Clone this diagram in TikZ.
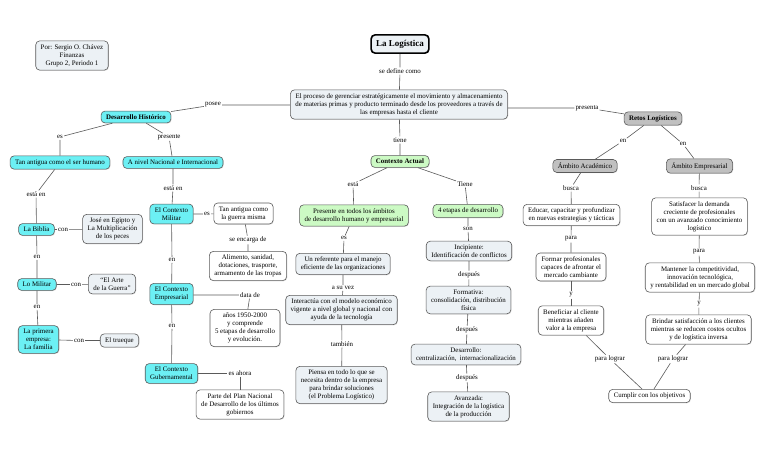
\documentclass[tikz,border=0pt]{standalone}
\usepackage{fontspec}
\setmainfont{Liberation Serif}
\usetikzlibrary{shadows}

\definecolor{cmcyan}{RGB}{108,240,244}
\definecolor{cmgreen}{RGB}{204,250,196}
\definecolor{cmgray}{RGB}{192,192,192}
\definecolor{cmsoft}{RGB}{236,241,245}
\definecolor{cmline}{RGB}{90,90,90}

\tikzset{
  concept/.style={draw=cmline, line width=0.6pt, rounded corners=4pt, align=center,
    inner xsep=5pt, inner ysep=3.5pt, font=\fontsize{6.9}{8}\selectfont,
    drop shadow={opacity=0.25, shadow xshift=0.7pt, shadow yshift=-0.7pt}},
  hist/.style={concept, fill=cmcyan},
  actual/.style={concept, fill=cmgreen},
  retos/.style={concept, fill=cmgray},
  soft/.style={concept, fill=cmsoft},
  plain/.style={concept, fill=white},
  head/.style={font=\fontsize{6.9}{8}\selectfont\bfseries},
  link/.style={inner sep=1pt, font=\fontsize{6.9}{8}\selectfont},
  conn/.style={draw=cmline, line width=0.6pt}
}

\begin{document}
\begin{tikzpicture}[x=1pt, y=-1pt]
		%%%%% START %%%%%
		\useasboundingbox (0,0) rectangle (768,466);
		
		% autor y raiz
		\node[soft] (autor) at (72,55.5) {Por: Sergio O. Chávez\\Finanzas\\Grupo 2, Periodo 1};
		\node[soft, line width=1.6pt, draw=black, font=\fontsize{9}{10.5}\selectfont\bfseries, inner ysep=5pt, inner xsep=5pt] (logistica) at (400,44) {La Logística};
		\node[soft] (definicion) at (399,104.5) {El proceso de gerenciar estratégicamente el movimiento y almacenamiento\\de materias primas y producto terminado desde los proveedores a través de\\las empresas hasta el cliente};
		
		\node[link] (sedefine) at (400,71) {se define como};
		\draw[conn] (logistica) -- (sedefine) -- (definicion);
		
		% tres ramas
		\node[hist, head] (historico) at (136,117) {Desarrollo Histórico};
		\node[actual, head] (actual) at (400,161.5) {Contexto Actual};
		\node[retos, head] (retos) at (653,118.5) {Retos Logísticos};
		
		\node[link] (posee) at (213,105) {posee};
		\node[link] (tiene) at (400,140) {tiene};
		\node[link] (presenta) at (587,108) {presenta};
		\draw[conn] (historico) -- (posee) -- (definicion.west |- posee);
		\draw[conn] (definicion) -- (tiene) -- (actual);
		\draw[conn] (definicion.east |- presenta) -- (presenta) -- (retos);
		
		% desarrollo historico
		\node[hist] (antigua) at (60,162.5) {Tan antigua como el ser humano};
		\node[hist] (nivel) at (173,162.5) {A nivel Nacional e Internacional};
		\node[link] (es1) at (60,137) {es};
		\node[link] (presente) at (169,137) {presente};
		\draw[conn] (historico) -- (es1) -- (antigua);
		\draw[conn] (historico) -- (presente) -- (nivel);
		
		\node[hist] (biblia) at (36.5,229.5) {La Biblia};
		\node[soft] (jose) at (112.5,229) {José en Egipto y\\La Multiplicación\\de los peces};
		\node[hist] (militar) at (37,284.5) {Lo Militar};
		\node[soft] (arte) at (112,284) {“El Arte\\de la Guerra”};
		\node[hist] (familia) at (38.5,339.5) {La primera\\empresa:\\La familia};
		\node[soft] (trueque) at (119.5,340.5) {El trueque};
		
		\node[link] (estaen1) at (36,194) {está en};
		\node[link] (con1) at (63,229.5) {con};
		\node[link] (en1) at (37,257) {en};
		\node[link] (con2) at (76,284.5) {con};
		\node[link] (en2) at (37,307) {en};
		\node[link] (con3) at (79,340.5) {con};
		\draw[conn] (antigua) -- (estaen1) -- (biblia);
		\draw[conn] (biblia) -- (con1) -- (jose);
		\draw[conn] (biblia) -- (en1) -- (militar);
		\draw[conn] (militar) -- (con2) -- (arte);
		\draw[conn] (militar) -- (en2) -- (familia);
		\draw[conn] (familia) -- (con3) -- (trueque);
		
		% contextos
		\node[hist] (cmilitar) at (171.5,214) {El Contexto\\Militar};
		\node[hist] (cempresa) at (171.5,294) {El Contexto\\Empresarial};
		\node[hist] (cgobierno) at (171.5,373.5) {El Contexto\\Gubernamental};
		\node[plain] (guerra) at (243.5,213.5) {Tan antigua como\\la guerra misma};
		\node[plain] (alimento) at (248,266) {Alimento, sanidad,\\dotaciones, trasporte,\\armamento de las tropas};
		\node[plain] (anos) at (245,328) {años 1950-2000\\y comprende\\5 etapas de desarrollo\\y evolución.};
		\node[plain] (plan) at (240,404.5) {Parte del Plan Nacional\\de Desarrollo de los últimos\\gobiernos};
		
		\node[link] (estaen2) at (173,188) {está en};
		\node[link] (es2) at (207,214) {es};
		\node[link] (encarga) at (248,240) {se encarga de};
		\node[link] (en3) at (172,260) {en};
		\node[link] (datade) at (250,295) {data de};
		\node[link] (en4) at (172,326) {en};
		\node[link] (esahora) at (240,373) {es ahora};
		\draw[conn] (nivel) -- (estaen2) -- (cmilitar);
		\draw[conn] (cmilitar) -- (es2) -- (guerra);
		\draw[conn] (guerra) -- (encarga) -- (alimento);
		\draw[conn] (cmilitar) -- (en3) -- (cempresa);
		\draw[conn] (cempresa.east |- datade) -- (datade) -- (anos);
		\draw[conn] (cempresa) -- (en4) -- (cgobierno);
		\draw[conn] (cgobierno.east |- esahora) -- (esahora) -- (plan);
		
		% contexto actual
		\node[actual] (presentet) at (354,215.5) {Presente en todos los ámbitos\\de desarrollo humano y empresarial};
		\node[soft] (referente) at (343,264) {Un referente para el manejo\\eficiente de las organizaciones};
		\node[soft] (interactua) at (341.5,310) {Interactúa con el modelo económico\\vigente a nivel global y nacional con\\ayuda de la tecnología};
		\node[soft] (piensa) at (341.5,385) {Piensa en todo lo que se\\necesita dentro de la empresa\\para brindar soluciones\\(el Problema Logístico)};
		
		\node[link] (esta) at (353,184) {está};
		\node[link] (es3) at (344,238) {es};
		\node[link] (asuvez) at (343,288) {a su vez};
		\node[link] (tambien) at (342,344) {también};
		\draw[conn] (actual) -- (esta) -- (presentet);
		\draw[conn] (presentet) -- (es3) -- (referente);
		\draw[conn] (referente) -- (asuvez) -- (interactua);
		\draw[conn] (interactua) -- (tambien) -- (piensa);
		
		\node[actual] (etapas) at (468,211) {4 etapas de desarrollo};
		\node[soft] (incipiente) at (469,251) {Incipiente:\\Identificación de conflictos};
		\node[soft] (formativa) at (468.5,300) {Formativa:\\consolidación, distribución\\física};
		\node[soft] (desarrollo) at (466,354.5) {Desarrollo:\\centralización,\ \ internacionalización};
		\node[soft] (avanzada) at (468.5,406.5) {Avanzada:\\Integración de la logística\\de la producción};
		
		\node[link] (tiene2) at (465,184) {Tiene};
		\node[link] (son) at (468,229) {son};
		\node[link] (despues1) at (469,275) {después};
		\node[link] (despues2) at (467,330) {después};
		\node[link] (despues3) at (467,378) {después};
		\draw[conn] (actual) -- (tiene2) -- (etapas);
		\draw[conn] (etapas) -- (son) -- (incipiente);
		\draw[conn] (incipiente) -- (despues1) -- (formativa);
		\draw[conn] (formativa) -- (despues2) -- (desarrollo);
		\draw[conn] (desarrollo) -- (despues3) -- (avanzada);
		
		% retos logisticos
		\node[retos] (academico) at (585,166) {Ámbito Académico};
		\node[retos] (empresarial) at (699.5,166) {Ámbito Empresarial};
		\node[link] (en5) at (623,141) {en};
		\node[link] (en6) at (683,144) {en};
		\draw[conn] (retos) -- (en5) -- (academico);
		\draw[conn] (retos) -- (en6) -- (empresarial);
		
		\node[plain] (educar) at (571.5,215) {Educar, capacitar y profundizar\\en nuevas estrategias y tácticas};
		\node[plain] (formar) at (571,267) {Formar profesionales\\capaces de afrontar el\\mercado cambiante};
		\node[plain] (beneficiar) at (571,320.5) {Beneficiar al cliente\\mientras añaden\\valor a la empresa};
		\node[plain] (satisfacer) at (699.5,216.5) {Satisfacer la demanda\\creciente de profesionales\\con un avanzado conocimiento\\logístico};
		\node[plain] (mantener) at (700,277.5) {Mantener la competitividad,\\innovación tecnológica,\\y rentabilidad en un mercado global};
		\node[plain] (brindar) at (698.5,329.5) {Brindar satisfacción a los clientes\\mientras se reducen costos ocultos\\y de logística inversa};
		\node[plain] (cumplir) at (649.5,396) {Cumplir con los objetivos};
		
		\node[link] (busca1) at (571,188) {busca};
		\node[link] (para1) at (571,239) {para};
		\node[link] (y1) at (571,295) {y};
		\node[link] (busca2) at (699,188) {busca};
		\node[link] (para2) at (699,252) {para};
		\node[link] (y2) at (699,304) {y};
		\node[link] (lograr1) at (610,359) {para lograr};
		\node[link] (lograr2) at (673,359) {para lograr};
		\draw[conn] (academico) -- (busca1) -- (educar);
		\draw[conn] (educar) -- (para1) -- (formar);
		\draw[conn] (formar) -- (y1) -- (beneficiar);
		\draw[conn] (empresarial) -- (busca2) -- (satisfacer);
		\draw[conn] (satisfacer) -- (para2) -- (mantener);
		\draw[conn] (mantener) -- (y2) -- (brindar);
		\draw[conn] (beneficiar) -- (lograr1) -- (cumplir);
		\draw[conn] (brindar) -- (lograr2) -- (cumplir);
		
		%%%%% END %%%%%
	\end{tikzpicture}
\end{document}
